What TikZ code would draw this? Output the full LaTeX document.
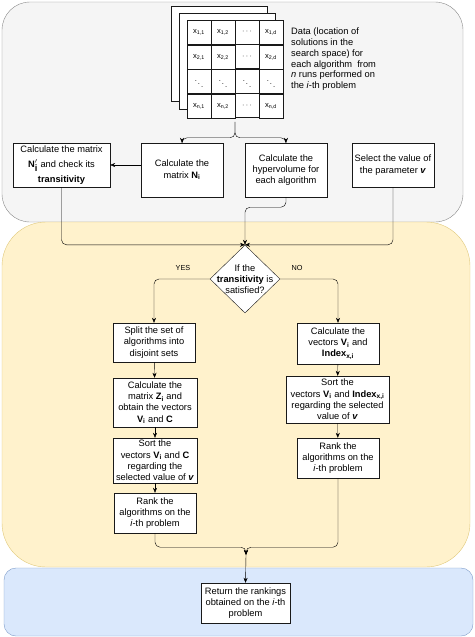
\documentclass[tikz,border=0pt]{standalone}
\usepackage{fontspec}
\setmainfont{Liberation Sans}
\usepackage{xcolor}
\usepackage{tikz}
\usetikzlibrary{matrix,shapes.geometric,arrows.meta}
\definecolor{grayfill}{HTML}{F5F5F5}
\definecolor{graydraw}{HTML}{8A8A8A}
\definecolor{yellowfill}{HTML}{FFF2CC}
\definecolor{yellowdraw}{HTML}{E0C97A}
\definecolor{bluefill}{HTML}{DAE8FC}
\definecolor{bluedraw}{HTML}{7E9CC9}
\newcommand{\bsub}[2]{\textbf{#1\textsubscript{#2}}}
\newcommand{\bv}{\textbf{\textit{v}}}
\newcommand{\Nprime}{$\textbf{N}^{\prime}_{\textbf{i}}$}

\begin{document}
\begin{tikzpicture}[
  x=1pt, y=-1pt,
  box/.style={draw=black!90, fill=white, align=center, inner sep=1pt,
              font=\fontsize{9.3}{11.3}\selectfont},
  decision/.style={draw=black!90, fill=white, diamond, inner sep=0pt,
                   minimum width=70pt, minimum height=68pt},
  dectext/.style={align=center, font=\fontsize{9.3}{11}\selectfont},
  cell/.style={draw=black!90, fill=white, minimum width=24pt, minimum height=24pt,
               inner sep=0pt, font=\fontsize{7.6}{8}\selectfont},
  sheet/.style={draw=black!90, fill=white},
  datatext/.style={align=left, inner sep=0pt, font=\fontsize{9.3}{10.7}\selectfont},
  arrow/.style={-{Stealth[length=5pt,width=4pt]}, draw=black, rounded corners=5pt},
  tag/.style={font=\fontsize{7.3}{8}\selectfont},
]
\useasboundingbox (0,0) rectangle (474,637);
\draw[draw=graydraw, fill=grayfill, rounded corners=28pt] (2,2) rectangle (463,222);
\draw[draw=yellowdraw, fill=yellowfill, rounded corners=44pt] (2,222) rectangle (470,567);
\draw[draw=bluedraw, fill=bluefill, rounded corners=12pt] (4,568) rectangle (473,636);

\draw[sheet] (171,6) rectangle (267,101);
\draw[sheet] (179,13) rectangle (275,109);
\matrix (mat) at (235,69) [matrix of nodes, nodes={cell},
             column sep=-\pgflinewidth, row sep=-\pgflinewidth] {
  x\textsubscript{1,1} & x\textsubscript{1,2} & $\cdots$ & x\textsubscript{1,d} \\
  x\textsubscript{2,1} & x\textsubscript{2,2} & $\cdots$ & x\textsubscript{2,d} \\
  $\ddots$ & $\ddots$ & $\ddots$ & $\ddots$ \\
  x\textsubscript{n,1} & x\textsubscript{n,2} & $\cdots$ & x\textsubscript{n,d} \\
};
\node[datatext, anchor=north west] (datainfo) at (291,28) {Data (location of\\
  solutions in the\\ search space) for\\ each algorithm\ \ from\\
  \textit{n} runs performed on\\ the \textit{i}-th problem};

\node[box, minimum width=97pt, minimum height=44pt, font=\fontsize{9.3}{15}\selectfont]
  (nmatp) at (61.5,165)
  {Calculate the matrix\\ \Nprime\ and check its\\ \textbf{transitivity}};
\node[box, minimum width=82pt, minimum height=54pt] (nmat) at (182,170)
  {Calculate the\\ matrix \bsub{N}{i}};
\node[box, minimum width=82pt, minimum height=54pt] (hvol) at (286,170)
  {Calculate the\\ hypervolume for\\ each algorithm};
\node[box, minimum width=82pt, minimum height=44pt] (param) at (393,165)
  {Select the value of\\ the parameter \bv};

\node[decision, label={[dectext]center:{If the\\ \textbf{transitivity} is\\ satisfied?}}]
  (dia) at (245,279) {};
\node[tag] (yes) at (183,268) {YES};
\node[tag] (no) at (297,268) {NO};

\node[box, minimum width=82pt, minimum height=39pt] (split) at (154,342.5)
  {Split the set of\\ algorithms into\\ disjoint sets};
\node[box, minimum width=84pt, minimum height=49pt] (zmat) at (155,402.5)
  {Calculate the\\ matrix \bsub{Z}{i} and\\ obtain the vectors\\ \bsub{V}{i} and \textbf{C}};
\node[box, minimum width=84pt, minimum height=45pt] (sortl) at (155,460.5)
  {Sort the\\ vectors \bsub{V}{i} and \textbf{C}\\ regarding the\\ selected value of \bv};
\node[box, minimum width=82pt, minimum height=40pt] (rankl) at (155,513)
  {Rank the\\ algorithms on the\\ \textit{i}-th problem};

\node[box, minimum width=82pt, minimum height=41pt] (vecr) at (338,343.5)
  {Calculate the\\ vectors \bsub{V}{i} and\\ \bsub{Index}{x,i}};
\node[box, minimum width=103pt, minimum height=47pt] (sortr) at (337.5,399.5)
  {Sort the\\ vectors \bsub{V}{i} and \bsub{Index}{x,i}\\ regarding the selected\\ value of \bv};
\node[box, minimum width=82pt, minimum height=40pt] (rankr) at (338,458)
  {Rank the\\ algorithms on the\\ \textit{i}-th problem};

\coordinate (merge) at (246,555);
\node[box, minimum width=89pt, minimum height=40pt] (result) at (245.5,603)
  {Return the rankings\\ obtained on the \textit{i}-th\\ problem};

\draw[arrow] (mat.south) -- ++(0,16) -| (nmat.north);
\draw[arrow] (mat.south) -- ++(0,16) -| (hvol.north);
\draw[arrow] (nmat.west |- nmatp.east) -- (nmatp.east);
\draw[arrow] (nmatp.south) |- (dia.north);
\draw[arrow] (param.south) |- (dia.north);
\draw[arrow] (hvol.south) -- ++(0,10) -| (dia.north);
\draw[arrow] (dia.west) -| (split.north);
\draw[arrow] (dia.east) -| (vecr.north);
\draw[arrow] (split) -- (zmat);
\draw[arrow] (zmat) -- (sortl);
\draw[arrow] (sortl) -- (rankl);
\draw[arrow] (vecr) -- (sortr);
\draw[arrow] (sortr) -- (rankr);
\draw[arrow] (rankl.south) -- ++(0,14) -| (merge);
\draw[arrow] (rankr.south) -- ++(0,69) -| (merge);
\draw[arrow] (merge) -- (result.north);
\end{tikzpicture}
\end{document}
